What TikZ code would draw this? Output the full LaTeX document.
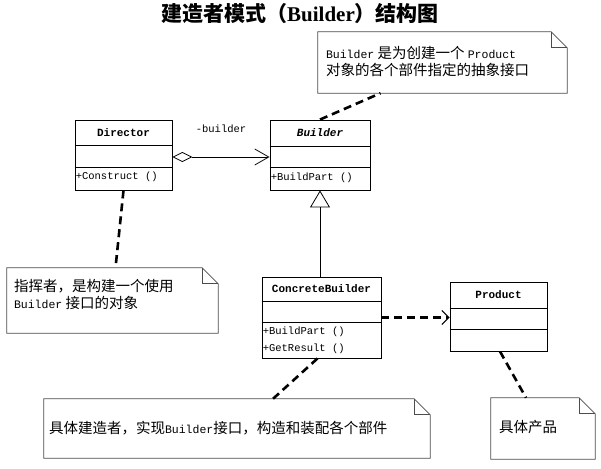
\documentclass[tikz,border=0pt]{standalone}
\usepackage{fontspec}
\setmainfont{Noto Sans CJK SC}
\setmonofont{Liberation Mono}
\newfontfamily\titleserif{Liberation Serif}
\usetikzlibrary{arrows.meta,calc}

\tikzset{
  classbox/.style={draw, line width=0.9pt, inner sep=0pt},
  classname/.style={font=\fontsize{11}{12}\ttfamily\bfseries, inner sep=0pt},
  member/.style={font=\fontsize{10.5}{12}\ttfamily, inner sep=0pt, anchor=west},
  notebox/.style={inner sep=0pt},
  noteline/.style={draw=black!70, line width=0.8pt},
  notetext/.style={font=\fontsize{14.5}{17}\selectfont, align=left, inner sep=0pt, anchor=north west},
  notelink/.style={line width=2.6pt, dash pattern=on 8pt off 5pt},
  aggr/.style={line width=0.8pt, {Diamond[open,length=20pt,width=10pt]}-{Straight Barb[length=14pt,width=16pt]}},
  inherit/.style={line width=0.8pt, -{Triangle[open,length=17pt,width=20pt]}},
  depend/.style={line width=2.6pt, dash pattern=on 8pt off 5pt, -{Straight Barb[length=7pt,width=14pt,line width=1pt]}}
}
\newcommand\lat[1]{{\fontsize{11.5}{10}\ttfamily #1}}
\newcommand\dogear[1]{%
  \draw[noteline] (#1.north west) -- ([xshift=-16pt]#1.north east) -- ([yshift=-16pt]#1.north east)
    -- (#1.south east) -- (#1.south west) -- cycle;
  \draw[noteline] ([xshift=-16pt]#1.north east) |- ([yshift=-16pt]#1.north east);}

\begin{document}
\begin{tikzpicture}[x=1pt,y=-1pt]
    \useasboundingbox[fill=white] (0,0) rectangle (601,468);
    \node[font=\fontsize{21}{23}\selectfont\bfseries] (title) at (300,14) {建造者模式（{\titleserif Builder}）结构图};

    \node[classbox, minimum width=97pt, minimum height=70pt] (director) at (123.5,155) {};
    \draw[line width=0.9pt] (director.west |- 0,145) -- (director.east |- 0,145);
    \draw[line width=0.9pt] (director.west |- 0,167) -- (director.east |- 0,167);
    \node[classname] (dirname) at (director.north |- 0,132.5) {Director};
    \node[member] (dirop) at ([xshift=1pt]director.west |- 0,177) {+Construct ()};

    \node[classbox, minimum width=100pt, minimum height=70pt] (builder) at (320,155) {};
    \draw[line width=0.9pt] (builder.west |- 0,146) -- (builder.east |- 0,146);
    \draw[line width=0.9pt] (builder.west |- 0,167) -- (builder.east |- 0,167);
    \node[classname, font=\fontsize{11}{12}\ttfamily\bfseries\itshape] (buiname) at (builder.north |- 0,133) {Builder};
    \node[member] (buiop) at ([xshift=1pt]builder.west |- 0,178) {+BuildPart ()};

    \node[classbox, minimum width=119pt, minimum height=81pt] (cb) at (321.5,317.5) {};
    \draw[line width=0.9pt] (cb.west |- 0,301) -- (cb.east |- 0,301);
    \draw[line width=0.9pt] (cb.west |- 0,322) -- (cb.east |- 0,322);
    \node[classname] (cbname) at (cb.north |- 0,289) {ConcreteBuilder};
    \node[member] (cbop1) at ([xshift=1pt]cb.west |- 0,332) {+BuildPart ()};
    \node[member] (cbop2) at ([xshift=1pt]cb.west |- 0,349) {+GetResult ()};

    \node[classbox, minimum width=97pt, minimum height=69pt] (product) at (498.5,316.5) {};
    \draw[line width=0.9pt] (product.west |- 0,308) -- (product.east |- 0,308);
    \draw[line width=0.9pt] (product.west |- 0,329) -- (product.east |- 0,329);
    \node[classname] (prodname) at (product.north |- 0,295) {Product};

    \node[notebox, minimum width=249pt, minimum height=61pt] (topnote) at (442.5,62.5) {};
    \dogear{topnote}
    \node[notetext] (toptext) at ([xshift=8pt,yshift=-14pt]topnote.north west) {\lat{Builder} 是为创建一个 \lat{Product}\\对象的各个部件指定的抽象接口};

    \node[notebox, minimum width=211pt, minimum height=65pt] (dirnote) at (112.5,300.5) {};
    \dogear{dirnote}
    \node[notetext] (dirtext) at ([xshift=7pt,yshift=-11pt]dirnote.north west) {指挥者，是构建一个使用\\\lat{Builder} 接口的对象};

    \node[notebox, minimum width=386pt, minimum height=59pt] (cbnote) at (237,428.5) {};
    \dogear{cbnote}
    \node[notetext] (cbtext) at ([xshift=5pt,yshift=-22pt]cbnote.north west) {具体建造者，实现\lat{Builder}接口，构造和装配各个部件};

    \node[notebox, minimum width=104pt, minimum height=61pt] (prodnote) at (543,428.5) {};
    \dogear{prodnote}
    \node[notetext] (prodtext) at ([xshift=8pt,yshift=-22pt]prodnote.north west) {具体产品};

    \draw[aggr] ([yshift=-2pt]director.east) -- ([yshift=-2pt]builder.west) node[pos=0.5, above=21pt, font=\fontsize{10.5}{12}\ttfamily] (role) {-builder};
    \draw[inherit] (builder.south |- cb.north) -- (builder.south);
    \draw[depend] (cb.east) -- (cb.east -| product.west);

    \draw[notelink] (builder.north) -- ([xshift=-62pt]topnote.south);
    \draw[notelink] (director.south) -- ([xshift=3pt]dirnote.north);
    \draw[notelink] ([xshift=-4pt]cb.south) -- ([xshift=36pt]cbnote.north);
    \draw[notelink] ([xshift=1.5pt]product.south) -- ([xshift=-17pt]prodnote.north);
\end{tikzpicture}
\end{document}
